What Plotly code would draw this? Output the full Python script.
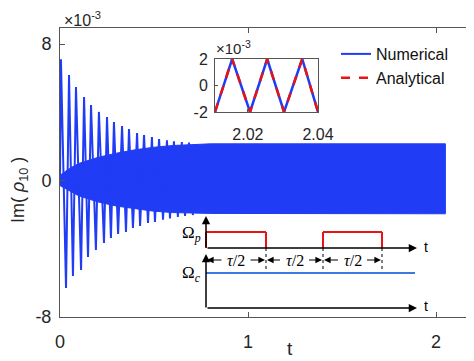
import plotly.graph_objects as go

# ---------------- data ----------------
# main panel: decaying spikes of Im(rho10), units 1e-3
peak_t = [0.005, 0.048, 0.085, 0.128, 0.165, 0.207, 0.250, 0.287, 0.330, 0.367,
          0.410, 0.447, 0.489, 0.527, 0.569, 0.606, 0.648, 0.686]
peak_v = [7.1, 6.18, 5.48, 4.89, 4.43, 4.02, 3.72, 3.43, 3.19, 3.02,
          2.78, 2.67, 2.55, 2.43, 2.36, 2.30, 2.26, 2.22]
trough_t = [0.032, 0.069, 0.112, 0.149, 0.191, 0.234, 0.271, 0.309, 0.351, 0.388,
            0.426, 0.468, 0.505, 0.548, 0.585, 0.627, 0.665, 0.707]
trough_v = [-6.30, -5.60, -5.25, -4.48, -4.07, -3.66, -3.37, -3.14, -3.02, -2.78,
            -2.67, -2.49, -2.43, -2.30, -2.22, -2.14, -2.08, -2.03]
# dense fast-oscillation band (upper / lower envelope), units 1e-3
band_t = [0.0, 0.05, 0.1, 0.2, 0.3, 0.4, 0.5, 0.6, 0.8, 1.0, 1.5, 2.05]
band_up = [0.3, 0.7, 1.0, 1.35, 1.6, 1.8, 1.95, 2.05, 2.15, 2.15, 2.15, 2.15]
band_lo = [-0.3, -0.6, -0.9, -1.25, -1.5, -1.65, -1.8, -1.88, -1.93, -1.95, -1.95, -1.95]
# inset: steady-state triangle wave, units 1e-3
inset_t = [2.0106, 2.0155, 2.0206, 2.0255, 2.0303, 2.0355, 2.0400]
inset_v = [-2, 2, -2, 2, -2, 2, -2]

x_ticks = [0, 1, 2]
y_ticks = [-8, 0, 8]
inset_x_ticks = [2.02, 2.04]
inset_y_ticks = [-2, 0, 2]

BLUE = "rgb(32,60,245)"
RED = "rgb(230,20,20)"
SCALE = 1e-3

# zigzag of spikes, interleaved in time
pts = sorted(list(zip(peak_t, peak_v)) + list(zip(trough_t, trough_v)))
zig_t = [0.0] + [p[0] for p in pts]
zig_v = [0.0] + [p[1] * SCALE for p in pts]

fig = go.Figure()
# band as filled polygon
fig.add_trace(go.Scatter(
    x=band_t + band_t[::-1],
    y=[v * SCALE for v in band_up] + [v * SCALE for v in band_lo[::-1]],
    fill="toself", fillcolor=BLUE, line=dict(color=BLUE, width=1),
    mode="lines", showlegend=False, hoverinfo="skip"))
fig.add_trace(go.Scatter(x=zig_t, y=zig_v, mode="lines", name="Numerical",
                         line=dict(color=BLUE, width=2)))
# inset
fig.add_trace(go.Scatter(x=inset_t, y=[v * SCALE for v in inset_v], mode="lines",
                         line=dict(color=BLUE, width=2.5), showlegend=False,
                         xaxis="x2", yaxis="y2"))
fig.add_trace(go.Scatter(x=inset_t, y=[v * SCALE for v in inset_v], mode="lines",
                         name="Analytical", line=dict(color=RED, width=2.5, dash="dash"),
                         xaxis="x2", yaxis="y2"))

# page places the figure 8px from the top-left corner (body margin)
OFF = 8
SCR_W, SCR_H = 474, 361
L, R, T, B = 60, 474, 28, 317          # plot area in screen pixels
W, H = SCR_W - OFF, SCR_H - OFF


def px(x):
    return (x - L) / (R - L)


def py(y):
    return (B - y) / (B - T)


AX = "#555555"
TXT = "#262626"
FONT = "Liberation Sans"
SERIF = "Liberation Serif"

fig.update_layout(
    width=W, height=H,
    margin=dict(l=L - OFF, r=SCR_W - R, t=T - OFF, b=SCR_H - B, autoexpand=False),
    paper_bgcolor="white", plot_bgcolor="white",
    font=dict(family=FONT, color=TXT, size=17),
    xaxis=dict(range=[0, (R - L) / 188.0], tickvals=x_ticks,
               ticktext=[str(v) for v in x_ticks],
               showgrid=False, zeroline=False, showline=True, linecolor=AX,
               mirror="ticks", ticks="inside", ticklen=5, tickcolor=AX,
               ticklabelstandoff=8, tickfont=dict(size=18)),
    yaxis=dict(range=[-8 * SCALE, 8 * SCALE + 16 * SCALE / 273 * 16],
               tickvals=[v * SCALE for v in y_ticks],
               ticktext=[str(v) for v in y_ticks],
               showgrid=False, zeroline=False, showline=True, linecolor=AX,
               mirror="ticks", ticks="inside", ticklen=5, tickcolor=AX,
               ticklabelstandoff=4, tickfont=dict(size=18)),
    xaxis2=dict(domain=[px(215), px(318)], anchor="y2",
                range=[inset_t[0], inset_t[-1]], tickvals=inset_x_ticks,
                ticktext=["%.2f" % v for v in inset_x_ticks],
                showgrid=False, zeroline=False, showline=True, linecolor=AX,
                mirror=True, ticks="inside", ticklen=3, tickcolor=AX,
                ticklabelstandoff=8, tickfont=dict(size=16)),
    yaxis2=dict(domain=[py(112), py(59)], anchor="x2",
                range=[-2 * SCALE, 2 * SCALE],
                tickvals=[v * SCALE for v in inset_y_ticks],
                ticktext=[str(v) for v in inset_y_ticks],
                showgrid=False, zeroline=False, showline=True, linecolor=AX,
                mirror=True, ticks="inside", ticklen=3, tickcolor=AX,
                ticklabelstandoff=3, tickfont=dict(size=16)),
    legend=dict(x=px(336), y=py(37), xanchor="left", yanchor="top",
                bgcolor="rgba(0,0,0,0)", font=dict(size=16, color="#111"),
                tracegroupgap=0),
)

ann = []


def text(x, y, s, size, family=FONT, xanchor="center", angle=0, color=TXT):
    ann.append(dict(x=px(x), y=py(y), text=s, showarrow=False,
                    xanchor=xanchor, yanchor="middle", textangle=angle,
                    font=dict(size=size, family=family, color=color),
                    xref="paper", yref="paper"))


# axis titles and exponents
text(290, 348, "t", 19)
text(20, 190, "Im( <i>ρ</i><sub>10</sub> )", 18, angle=-90)
text(62, 19, "×10<sup>-3</sup>", 16, xanchor="left")
text(214, 47, "×10<sup>-3</sup>", 15, xanchor="left")


def arrow(x1, y1, x0, y0, color="black", width=1.5):
    ann.append(dict(x=px(x1), y=py(y1), ax=x0 - x1, ay=y0 - y1, xref="paper",
                    yref="paper", axref="pixel", ayref="pixel", showarrow=True,
                    arrowhead=2, arrowsize=1.1, arrowwidth=width, arrowcolor=color,
                    text=""))


shapes = []


def seg(x0, y0, x1, y1, color="black", width=1.5, dash="solid"):
    shapes.append(dict(type="line", xref="paper", yref="paper",
                       x0=px(x0), y0=py(y0), x1=px(x1), y1=py(y1),
                       line=dict(color=color, width=width, dash=dash)))


# schematic: Omega_p axis
arrow(206, 216, 206, 249)
arrow(417, 248, 206, 248)
text(426, 247, "t", 14, color="black")
# red pulses
for a, b in [(206, 266), (323, 382)]:
    seg(a, 248, a, 232, RED, 2)
    seg(a, 232, b, 232, RED, 2)
    seg(b, 232, b, 248, RED, 2)
# dotted guides
for xv in [266, 323, 382]:
    seg(xv, 248, xv, 271, "black", 1, "dot")
# tau/2 arrows
for a, b in [(206, 266), (266, 323), (323, 382)]:
    c = (a + b) / 2
    arrow(a + 1, 260, c - 13, 260, width=1.2)
    arrow(b - 1, 260, c + 13, 260, width=1.2)
    text(c, 260, "<i>τ</i>/2", 16, family=SERIF, color="black")
# Omega_c axis
arrow(206, 254, 206, 309)
arrow(417, 308, 206, 308)
text(426, 306, "t", 14, color="black")
seg(206, 273, 415, 273, "rgb(60,120,225)", 2)
text(191, 234, "Ω<sub><i>p</i></sub>", 17, family=SERIF, color="black")
text(191, 274, "Ω<sub><i>c</i></sub>", 17, family=SERIF, color="black")

fig.update_layout(annotations=ann, shapes=shapes)
fig.write_html("out.html")
